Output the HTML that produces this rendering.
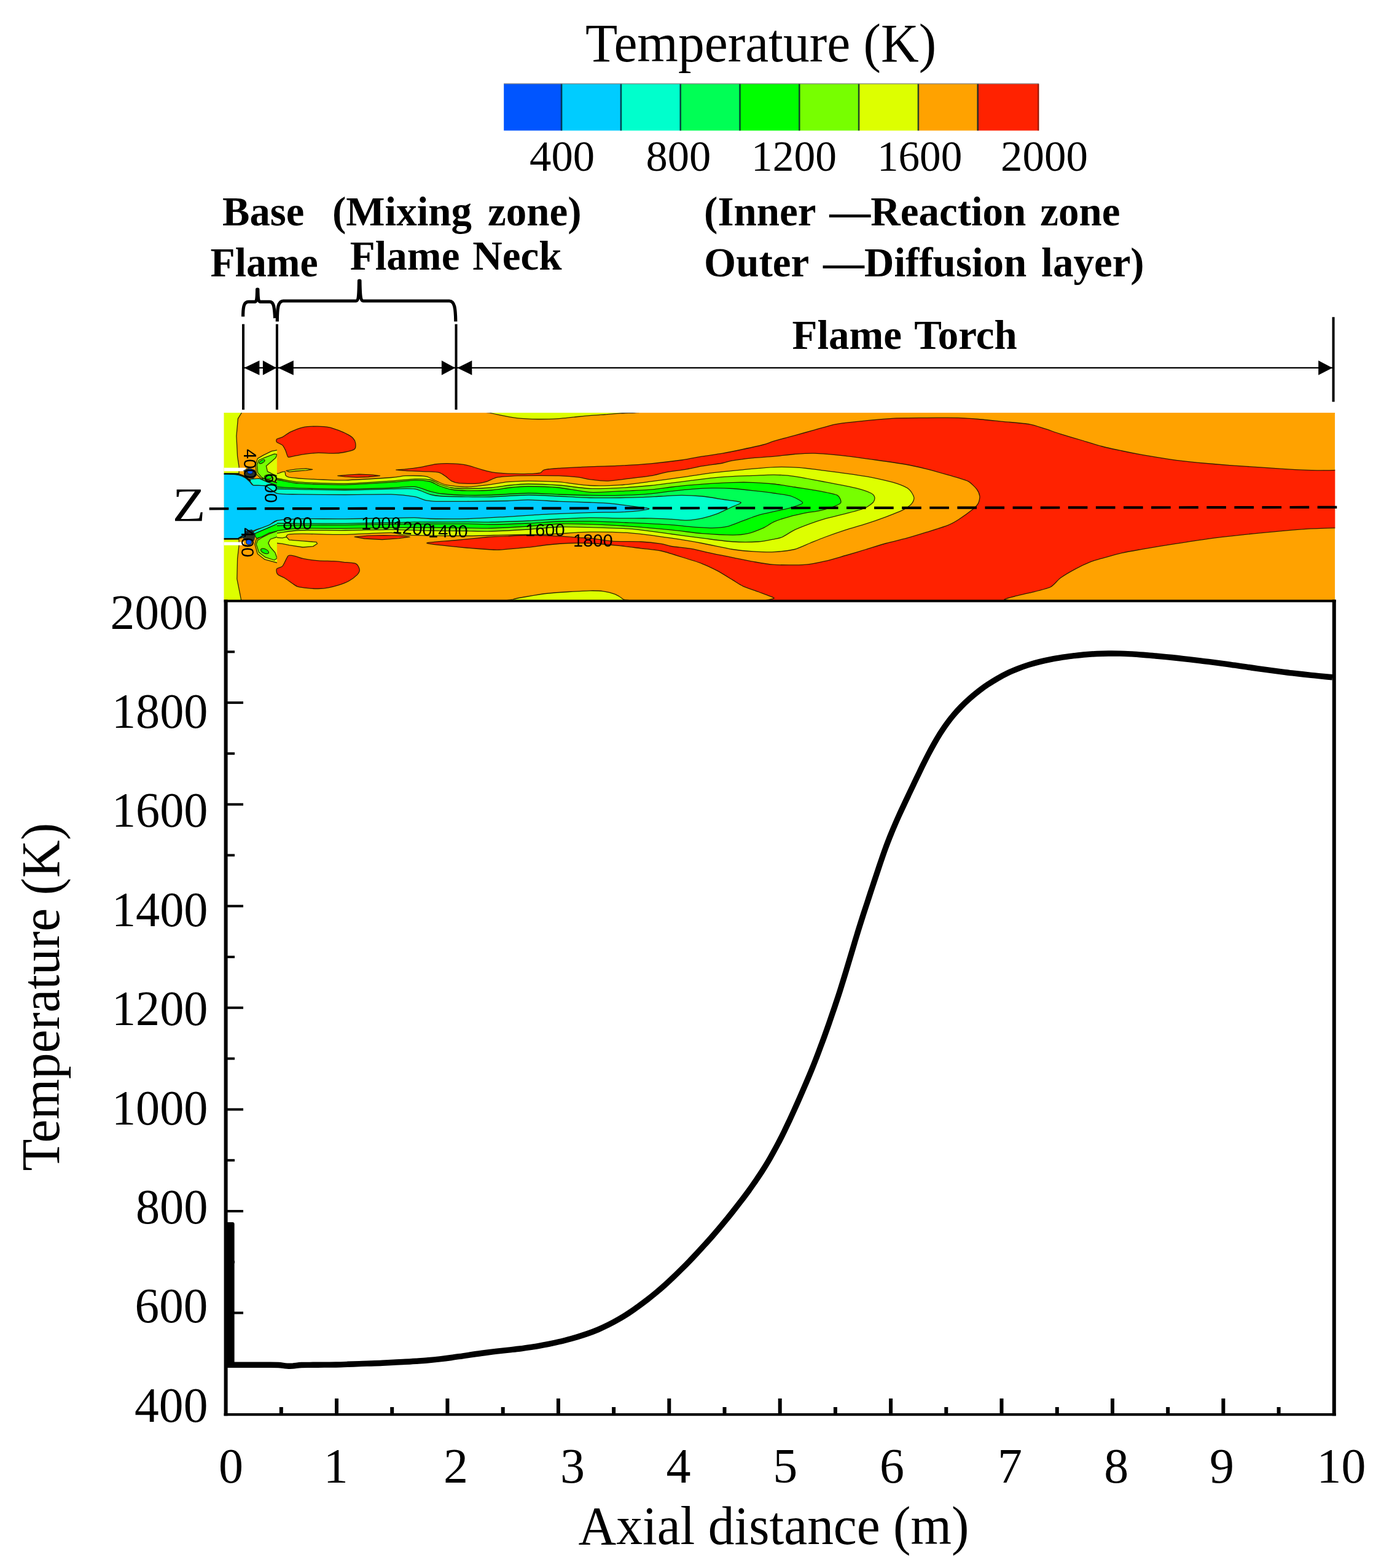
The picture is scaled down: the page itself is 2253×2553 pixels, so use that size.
<!DOCTYPE html>
<html lang="en"><head><meta charset="utf-8"><title>Temperature along axial distance</title>
<style>html,body{margin:0;padding:0;background:#fff;}svg{display:block;}text{font-family:"Liberation Serif",serif;fill:#000;}.b{font-weight:bold;}.s{font-family:"Liberation Sans",sans-serif;}</style>
</head><body>
<svg width="2253" height="2553" viewBox="0 0 2253 2553">
<rect width="2253" height="2553" fill="#ffffff"/>
<g>
<rect x="820.2" y="136.4" width="94.4" height="76.2" fill="#0055ff"/>
<rect x="914.1" y="136.4" width="97.3" height="76.2" fill="#00ccff"/>
<rect x="1010.9" y="136.4" width="97.3" height="76.2" fill="#00ffcc"/>
<rect x="1107.7" y="136.4" width="97.3" height="76.2" fill="#00ff55"/>
<rect x="1204.5" y="136.4" width="97.3" height="76.2" fill="#00ff00"/>
<rect x="1301.3" y="136.4" width="97.3" height="76.2" fill="#77ff00"/>
<rect x="1398.1" y="136.4" width="97.3" height="76.2" fill="#ddff00"/>
<rect x="1494.9" y="136.4" width="97.3" height="76.2" fill="#ffa200"/>
<rect x="1591.7" y="136.4" width="99.6" height="76.2" fill="#ff2200"/>
<line x1="914.1" y1="136.4" x2="914.1" y2="212.6" stroke="#00202c" stroke-opacity="0.8" stroke-width="2.6"/>
<line x1="1010.9" y1="136.4" x2="1010.9" y2="212.6" stroke="#00202c" stroke-opacity="0.8" stroke-width="2.6"/>
<line x1="1107.7" y1="136.4" x2="1107.7" y2="212.6" stroke="#00202c" stroke-opacity="0.8" stroke-width="2.6"/>
<line x1="1204.5" y1="136.4" x2="1204.5" y2="212.6" stroke="#00202c" stroke-opacity="0.8" stroke-width="2.6"/>
<line x1="1301.3" y1="136.4" x2="1301.3" y2="212.6" stroke="#00202c" stroke-opacity="0.8" stroke-width="2.6"/>
<line x1="1398.1" y1="136.4" x2="1398.1" y2="212.6" stroke="#00202c" stroke-opacity="0.8" stroke-width="2.6"/>
<line x1="1494.9" y1="136.4" x2="1494.9" y2="212.6" stroke="#00202c" stroke-opacity="0.8" stroke-width="2.6"/>
<line x1="1591.7" y1="136.4" x2="1591.7" y2="212.6" stroke="#00202c" stroke-opacity="0.8" stroke-width="2.6"/>
<line x1="1690.3" y1="136.4" x2="1690.3" y2="212.6" stroke="#5a1000" stroke-opacity="0.7" stroke-width="2"/>
<line x1="820.2" y1="136.4" x2="1690.8" y2="136.4" stroke="#777" stroke-opacity="0.7" stroke-width="1.6"/>
</g>
<defs><clipPath id="cc"><rect x="364.6" y="672.0" width="1808.7" height="305.0"/></clipPath></defs>
<g clip-path="url(#cc)">
<rect x="364.6" y="672.0" width="1808.7" height="305.0" fill="#ffa200"/>
<path d="M361.6 669.0 L394.1 670.0 L393.3 672.0 L387.4 681.6 L384.9 709.9 L386.6 743.1 L389.1 759.8 L389.0 771.0 L361.6 771.0Z" fill="#ddff00" stroke="#1c1800" stroke-opacity="0.9" stroke-width="1.3" stroke-linejoin="round"/>
<path d="M361.6 878.0 L389.0 878.0 L389.1 887.5 L386.6 909.4 L385.8 942.7 L390.8 967.6 L392.4 976.0 L393.3 978.5 L361.6 980.0Z" fill="#ddff00" stroke="#1c1800" stroke-opacity="0.9" stroke-width="1.3" stroke-linejoin="round"/>
<path d="M796.4 670.0 C766.8 670.2 793.7 671.1 796.4 672.0 C799.1 672.8 812.2 675.5 818.0 676.6 C823.8 677.7 835.7 680.1 842.9 680.8 C850.2 681.5 867.9 682.3 876.2 682.5 C884.5 682.6 902.2 682.0 909.4 681.6 C916.7 681.2 928.1 679.7 934.4 679.1 C940.7 678.5 953.7 677.1 960.0 676.6 C966.3 676.1 978.7 675.4 984.9 675.0 C991.2 674.5 1003.9 673.2 1009.9 672.8 C1015.9 672.4 1030.3 672.3 1033.2 672.0 C1036.1 671.6 1062.8 670.2 1033.2 670.0 C1003.6 669.7 826.0 669.7 796.4 670.0Z" fill="#ddff00" stroke="#1c1800" stroke-opacity="0.9" stroke-width="1.3" stroke-linejoin="round"/>
<path d="M834.6 978.5 C812.1 978.1 831.5 976.9 834.6 976.0 C837.7 975.0 852.3 972.2 859.6 971.0 C866.8 969.7 884.5 966.9 892.8 966.0 C901.1 965.1 917.7 964.0 926.1 963.5 C934.5 963.0 953.1 961.9 960.0 961.8 C966.9 961.7 976.4 961.9 981.6 962.7 C986.8 963.4 997.4 966.0 1001.6 967.6 C1005.7 969.3 1013.2 974.6 1014.9 976.0 C1016.5 977.3 1037.4 978.1 1014.9 978.5 C992.3 978.8 857.1 978.8 834.6 978.5Z" fill="#ddff00" stroke="#1c1800" stroke-opacity="0.9" stroke-width="1.3" stroke-linejoin="round"/>
<path d="M450.6 714.9 C451.8 713.8 457.0 713.0 459.8 711.6 C462.6 710.1 468.9 705.2 473.1 703.2 C477.2 701.3 487.6 696.9 493.0 695.8 C498.4 694.6 510.9 694.1 516.3 694.1 C521.7 694.1 531.9 694.9 536.3 695.8 C540.6 696.6 547.7 699.4 551.2 700.7 C554.8 702.1 561.6 705.0 564.5 706.6 C567.5 708.1 572.8 711.3 574.5 713.2 C576.3 715.1 578.4 719.2 578.7 721.5 C579.0 723.8 579.4 729.6 577.0 731.5 C574.6 733.4 563.8 735.7 559.6 736.5 C555.3 737.3 548.1 738.1 542.9 738.2 C537.7 738.3 524.2 737.1 518.0 737.3 C511.7 737.5 498.2 739.1 493.0 739.8 C487.8 740.6 479.4 742.6 476.4 743.1 C473.4 743.7 470.4 745.2 468.9 744.0 C467.5 742.7 465.9 735.6 464.8 733.2 C463.6 730.8 461.5 726.5 459.8 724.9 C458.0 723.2 451.8 721.1 450.6 719.9 C449.5 718.6 449.5 715.9 450.6 714.9Z" fill="#ff2200" stroke="#1c1800" stroke-opacity="0.9" stroke-width="1.3" stroke-linejoin="round"/>
<path d="M450.6 926.1 C451.8 924.7 457.8 924.0 459.8 921.9 C461.8 919.8 465.2 911.6 466.4 909.4 C467.7 907.3 468.1 905.0 469.8 904.5 C471.4 903.9 476.8 904.7 479.7 905.3 C482.6 905.9 488.3 908.5 493.0 909.4 C497.8 910.4 511.7 912.3 518.0 912.8 C524.2 913.3 537.7 913.3 542.9 913.6 C548.1 913.9 555.0 914.7 559.6 915.3 C564.1 915.8 576.3 916.2 579.5 917.8 C582.7 919.3 585.1 925.5 585.3 927.7 C585.5 930.0 583.4 933.8 581.2 936.1 C579.0 938.3 571.6 944.0 567.9 946.0 C564.1 948.1 555.4 951.3 551.2 952.7 C547.1 954.0 538.8 956.1 534.6 956.8 C530.5 957.6 522.1 958.4 518.0 958.5 C513.8 958.6 505.5 958.1 501.4 957.7 C497.2 957.3 487.8 956.1 484.7 955.2 C481.6 954.2 479.1 952.0 476.4 950.2 C473.7 948.4 466.0 942.8 463.1 941.0 C460.2 939.3 454.7 937.1 453.1 936.1 C451.6 935.0 450.9 934.0 450.6 932.7 C450.3 931.5 449.5 927.4 450.6 926.1Z" fill="#ff2200" stroke="#1c1800" stroke-opacity="0.9" stroke-width="1.3" stroke-linejoin="round"/>
<path d="M549.8 774.7 L568.5 773.1 L584.7 772.2 L605.9 773.1 L618.4 774.7 L599.7 776.5 L581.0 777.2 L562.3 776.2Z" fill="#ff2200" stroke="#1c1800" stroke-opacity="0.9" stroke-width="1.3" stroke-linejoin="round"/>
<path d="M577.2 874.1 L599.7 872.2 L624.6 871.6 L649.6 872.2 L667.0 874.1 L649.6 876.6 L622.1 878.5 L593.4 877.0Z" fill="#ff2200" stroke="#1c1800" stroke-opacity="0.9" stroke-width="1.3" stroke-linejoin="round"/>
<path d="M644.4 765.1 C644.4 764.8 654.9 764.5 660.0 763.9 C665.1 763.4 678.7 761.6 684.9 760.6 C691.2 759.6 703.7 756.3 709.9 755.6 C716.1 754.9 728.6 754.6 734.8 754.8 C741.1 755.0 753.5 756.0 759.8 757.3 C766.0 758.5 779.5 763.3 784.7 764.8 C789.9 766.2 796.2 768.1 801.4 768.9 C806.5 769.7 819.0 770.8 826.3 771.1 C833.6 771.4 852.9 771.6 859.6 771.4 C866.2 771.3 876.2 770.6 879.5 769.8 C882.8 768.9 882.4 765.7 886.2 764.8 C889.9 763.8 902.4 762.8 909.4 762.3 C916.5 761.8 936.4 760.9 942.7 760.6 C949.0 760.3 951.6 760.1 960.0 759.8 C968.4 759.5 997.4 758.7 1009.9 758.1 C1022.4 757.5 1047.3 755.9 1059.8 754.8 C1072.3 753.6 1099.3 750.4 1109.7 749.0 C1120.1 747.5 1134.6 744.5 1142.9 743.1 C1151.2 741.8 1167.9 739.6 1176.2 738.2 C1184.5 736.7 1201.1 733.3 1209.4 731.5 C1217.8 729.7 1236.4 725.7 1242.7 724.0 C1249.0 722.4 1253.7 720.1 1260.0 718.2 C1266.3 716.3 1284.9 711.3 1293.3 709.1 C1301.6 706.8 1318.2 702.2 1326.5 699.9 C1334.8 697.6 1351.5 692.4 1359.8 690.8 C1368.1 689.1 1384.7 687.5 1393.0 686.6 C1401.4 685.7 1418.0 684.0 1426.3 683.3 C1434.6 682.6 1449.2 681.2 1459.6 680.8 C1470.0 680.4 1496.9 680.4 1509.4 680.3 C1522.0 680.2 1549.5 680.0 1560.0 680.3 C1570.5 680.6 1583.9 681.7 1593.3 682.5 C1602.6 683.2 1624.4 685.6 1634.8 686.6 C1645.2 687.6 1668.1 689.3 1676.4 690.8 C1684.7 692.2 1695.1 696.3 1701.4 698.2 C1707.6 700.2 1719.0 704.3 1726.3 706.6 C1733.6 708.8 1751.2 714.0 1759.6 716.5 C1767.9 719.0 1784.5 724.3 1792.8 726.5 C1801.1 728.7 1817.7 732.2 1826.1 734.0 C1834.5 735.8 1850.2 738.9 1860.0 740.7 C1869.8 742.4 1893.3 746.2 1904.3 747.8 C1915.4 749.4 1936.5 751.9 1948.7 753.1 C1960.9 754.3 1988.6 756.6 2001.9 757.6 C2015.2 758.6 2041.8 760.2 2055.1 761.1 C2068.4 762.0 2097.3 764.1 2108.3 764.7 C2119.4 765.3 2135.7 765.8 2143.8 765.9 C2151.9 766.0 2168.6 765.6 2173.1 765.5 C2177.5 765.5 2178.5 753.8 2179.3 765.5 C2180.1 777.3 2180.1 847.8 2179.3 859.6 C2178.5 871.3 2179.7 859.3 2173.1 859.6 C2166.4 859.8 2138.6 860.6 2126.1 861.3 C2113.5 862.1 2086.2 864.5 2072.9 865.8 C2059.6 867.0 2032.9 869.6 2019.6 871.1 C2006.3 872.5 1979.7 875.5 1966.4 877.3 C1953.1 879.1 1926.5 883.2 1913.2 885.3 C1899.9 887.4 1870.9 892.3 1860.0 894.1 C1849.1 896.0 1834.5 898.4 1826.1 900.3 C1817.7 902.2 1799.1 907.7 1792.8 909.4 C1786.6 911.2 1781.4 912.4 1776.2 914.4 C1771.0 916.5 1757.5 922.7 1751.2 926.1 C1745.0 929.4 1731.5 937.3 1726.3 941.0 C1721.1 944.8 1715.9 953.0 1709.7 956.0 C1703.4 959.0 1683.7 963.3 1676.4 965.2 C1669.1 967.0 1656.7 969.6 1651.5 971.0 C1646.3 972.3 1637.1 974.7 1634.8 976.0 C1632.5 977.2 1679.5 980.3 1633.2 981.0 C1586.9 981.6 1311.0 981.9 1264.3 981.0 C1217.7 980.0 1263.7 975.7 1260.0 973.5 C1256.3 971.3 1240.7 965.9 1234.4 963.5 C1228.1 961.1 1214.6 956.7 1209.4 954.3 C1204.2 952.0 1198.0 947.5 1192.8 944.4 C1187.6 941.2 1174.1 932.7 1167.9 929.4 C1161.6 926.1 1150.2 920.6 1142.9 917.8 C1135.7 915.0 1118.0 909.5 1109.7 907.0 C1101.4 904.4 1084.7 898.7 1076.4 897.0 C1068.1 895.2 1051.5 893.9 1043.1 892.8 C1034.8 891.8 1020.3 889.7 1009.9 888.7 C999.5 887.6 970.5 885.0 960.0 884.5 C949.5 884.0 934.5 884.2 926.1 884.5 C917.7 884.8 901.1 886.2 892.8 887.0 C884.5 887.8 867.9 890.3 859.6 891.2 C851.2 892.0 832.5 893.6 826.3 894.1 C820.1 894.7 813.8 895.3 809.7 895.3 C805.5 895.4 799.3 894.9 793.0 894.5 C786.8 894.1 768.1 892.7 759.8 892.0 C751.5 891.3 734.6 889.7 726.5 888.7 C718.4 887.7 692.8 885.1 694.9 884.0 C697.0 882.9 730.9 880.7 743.1 879.5 C755.4 878.3 782.6 875.4 793.0 874.5 C803.4 873.7 818.0 873.2 826.3 872.9 C834.6 872.5 849.2 871.5 859.6 871.5 C870.0 871.5 899.1 872.4 909.4 872.9 C919.8 873.3 936.4 874.9 942.7 875.4 C949.0 875.8 953.3 875.5 960.0 876.2 C966.7 876.9 986.2 880.4 996.6 881.2 C1007.0 881.9 1033.2 881.5 1043.1 882.0 C1053.1 882.5 1070.2 884.4 1076.4 885.3 C1082.6 886.3 1086.8 888.5 1093.0 889.5 C1099.3 890.5 1118.0 892.2 1126.3 893.6 C1134.6 895.1 1151.2 899.4 1159.6 901.1 C1167.9 902.9 1184.5 906.1 1192.8 907.8 C1201.1 909.4 1217.7 913.0 1226.1 914.4 C1234.5 915.9 1249.5 918.8 1260.0 919.4 C1270.5 920.0 1299.5 920.2 1309.9 919.4 C1320.3 918.7 1334.8 915.5 1343.1 913.6 C1351.5 911.7 1368.1 906.8 1376.4 904.5 C1384.7 902.1 1401.4 897.0 1409.7 894.5 C1418.0 892.0 1434.6 886.8 1442.9 884.5 C1451.2 882.2 1467.9 878.5 1476.2 876.2 C1484.5 873.9 1501.1 868.8 1509.4 866.2 C1517.8 863.6 1536.4 857.9 1542.7 855.4 C1549.0 852.9 1554.9 849.5 1560.0 846.3 C1565.1 843.0 1579.2 832.9 1583.3 829.6 C1587.3 826.3 1591.0 822.3 1592.4 819.6 C1593.9 816.9 1595.2 810.9 1594.9 808.0 C1594.6 805.1 1592.2 799.4 1589.9 796.4 C1587.6 793.3 1580.4 786.2 1576.6 783.9 C1572.9 781.6 1564.2 779.4 1560.0 778.1 C1555.8 776.7 1549.0 774.8 1542.7 773.1 C1536.4 771.3 1517.8 766.0 1509.4 763.9 C1501.1 761.9 1486.6 758.3 1476.2 756.5 C1465.8 754.6 1438.8 750.7 1426.3 749.0 C1413.8 747.2 1388.9 743.7 1376.4 742.3 C1363.9 741.0 1336.9 738.5 1326.5 738.2 C1316.1 737.8 1301.6 738.9 1293.3 739.5 C1284.9 740.1 1268.4 742.4 1260.0 743.1 C1251.6 743.9 1234.5 744.8 1226.1 745.6 C1217.7 746.5 1199.1 748.8 1192.8 749.8 C1186.6 750.8 1182.4 752.8 1176.2 754.0 C1170.0 755.1 1150.2 757.7 1142.9 758.9 C1135.7 760.2 1125.3 762.7 1118.0 763.9 C1110.7 765.2 1092.0 767.6 1084.7 768.9 C1077.4 770.3 1067.1 773.5 1059.8 774.7 C1052.5 776.0 1035.5 777.9 1026.5 778.9 C1017.6 779.9 996.6 782.9 988.3 783.1 C980.0 783.3 965.7 781.3 960.0 780.6 C954.3 779.8 949.0 778.0 942.7 777.2 C936.4 776.5 917.8 775.1 909.4 774.7 C901.1 774.4 884.5 774.4 876.2 774.4 C867.9 774.4 851.2 774.4 842.9 774.7 C834.6 775.1 815.9 776.1 809.7 777.2 C803.4 778.4 797.2 782.6 793.0 783.9 C788.9 785.1 782.2 786.9 776.4 787.2 C770.6 787.6 751.7 787.2 746.5 786.7 C741.3 786.2 737.3 784.3 734.8 783.1 C732.3 781.8 729.0 778.1 726.5 776.4 C724.0 774.7 719.0 770.5 714.9 769.4 C710.7 768.3 700.1 768.1 693.3 767.8 C686.4 767.4 666.1 766.8 660.0 766.4 C653.9 766.1 644.4 765.4 644.4 765.1Z" fill="#ff2200" stroke="#1c1800" stroke-opacity="0.9" stroke-width="1.3" stroke-linejoin="round"/>
<defs><clipPath id="cR"><rect x="450.9" y="672.0" width="1722.4" height="305.0"/></clipPath><clipPath id="cL"><rect x="364.6" y="672.0" width="86.3" height="305.0"/></clipPath></defs>
<g clip-path="url(#cR)">
<path d="M430.0 771.0 C432.6 757.4 447.7 771.5 451.1 771.2 C454.6 771.0 456.0 769.4 457.6 769.0 C459.1 768.6 462.7 767.3 463.7 767.9 C464.6 768.5 464.2 773.0 465.1 774.1 C466.0 775.3 467.4 776.4 470.9 777.1 C474.4 777.7 486.1 778.8 493.0 779.3 C500.0 779.8 517.7 780.7 526.3 781.0 C534.9 781.3 548.2 782.3 562.0 781.8 C575.8 781.4 624.8 778.3 637.0 777.5 C649.2 776.6 653.0 775.0 660.0 774.7 C667.0 774.5 686.8 774.5 693.0 775.6 C699.2 776.6 705.8 781.3 710.0 783.1 C714.2 784.8 720.2 788.5 726.5 789.7 C732.8 791.0 751.7 793.0 760.0 793.0 C768.3 793.0 784.8 790.8 793.0 789.7 C801.2 788.7 817.6 785.6 826.0 784.7 C834.4 783.9 849.5 783.1 860.0 783.1 C870.5 783.1 897.5 783.8 910.0 784.7 C922.5 785.7 947.5 789.9 960.0 790.5 C972.5 791.2 997.4 790.5 1009.9 789.7 C1022.4 788.9 1047.3 785.5 1059.8 783.9 C1072.3 782.3 1097.2 779.0 1109.7 777.2 C1122.1 775.5 1147.1 771.3 1159.6 769.8 C1172.0 768.2 1196.9 765.9 1209.4 764.8 C1222.0 763.6 1248.5 761.0 1260.0 760.6 C1271.5 760.2 1291.2 760.7 1301.6 761.4 C1312.0 762.2 1331.7 765.0 1343.1 766.4 C1354.6 767.9 1382.6 771.5 1393.0 773.1 C1403.4 774.6 1418.0 777.1 1426.3 778.9 C1434.6 780.7 1452.9 785.0 1459.6 787.2 C1466.2 789.4 1476.0 793.6 1479.5 796.4 C1483.0 799.2 1487.2 806.8 1487.8 809.7 C1488.5 812.6 1486.6 817.2 1484.5 819.6 C1482.4 822.1 1476.4 826.9 1471.2 829.6 C1466.0 832.3 1450.6 838.4 1442.9 841.3 C1435.2 844.2 1418.0 850.2 1409.7 852.9 C1401.4 855.6 1384.7 860.2 1376.4 862.9 C1368.1 865.6 1350.4 871.8 1343.1 874.5 C1335.9 877.2 1324.4 882.0 1318.2 884.5 C1312.0 887.0 1300.5 892.7 1293.3 894.5 C1286.0 896.2 1268.4 898.2 1260.0 898.6 C1251.6 899.1 1234.5 898.3 1226.1 897.8 C1217.7 897.3 1203.2 896.1 1192.8 894.5 C1182.4 892.8 1155.4 886.8 1142.9 884.5 C1130.5 882.2 1107.6 878.3 1093.0 876.2 C1078.5 874.1 1043.1 869.1 1026.5 867.9 C1009.9 866.6 976.7 866.0 960.0 866.2 C943.3 866.5 909.5 869.3 892.8 869.9 C876.1 870.4 842.9 870.5 826.3 870.9 C809.7 871.2 780.6 872.5 759.8 872.5 C739.0 872.6 675.3 871.9 660.0 871.2 C644.7 870.5 649.2 867.4 637.0 867.3 C624.8 867.1 575.8 870.0 562.0 870.4 C548.2 870.7 534.9 870.0 526.3 869.9 C517.7 869.7 500.0 869.2 493.0 869.2 C486.1 869.2 474.2 869.5 470.9 869.9 C467.6 870.2 467.3 871.4 466.7 872.1 C466.0 872.8 466.2 874.5 465.3 875.2 C464.5 875.9 461.6 876.9 459.8 877.4 C458.0 878.0 454.9 879.3 451.1 879.6 C447.4 880.0 432.6 893.6 430.0 880.0 C427.4 866.4 427.4 784.6 430.0 771.0Z" fill="#ddff00" stroke="#1c1800" stroke-opacity="0.9" stroke-width="1.3" stroke-linejoin="round"/>
<path d="M465.9 766.3 L482.0 763.9 L498.6 762.8 L508.6 764.3 L498.6 765.9 L482.0 767.0 L470.9 768.3Z" fill="#c8f000" stroke="#1c1800" stroke-opacity="0.9" stroke-width="1.3" stroke-linejoin="round"/>
<path d="M448.7 875.2 L459.8 875.8 L466.4 874.3 L470.9 879.2 L493.0 880.8 L515.2 882.7 L516.5 885.2 L509.7 889.6 L493.0 891.0 L470.9 887.6 L459.8 885.4 L448.7 884.1Z" fill="#ddff00" stroke="#1c1800" stroke-opacity="0.9" stroke-width="1.3" stroke-linejoin="round"/>
<path d="M430.0 779.0 C432.6 767.9 443.9 778.3 451.0 779.0 C458.1 779.7 473.1 783.9 487.0 784.9 C500.9 786.0 543.2 787.7 562.0 787.4 C580.8 787.2 622.9 784.0 637.0 783.1 C651.1 782.1 667.1 780.2 675.0 779.9 C682.9 779.7 695.0 780.0 700.0 781.0 C705.0 782.0 710.6 786.4 715.0 788.0 C719.4 789.6 729.4 793.1 735.0 794.0 C740.6 794.9 751.9 795.5 760.0 795.5 C768.1 795.5 791.2 794.7 800.0 794.0 C808.8 793.3 822.5 790.8 830.0 790.0 C837.5 789.2 850.0 788.0 860.0 788.0 C870.0 788.0 897.5 789.1 910.0 790.0 C922.5 790.9 947.5 795.0 960.0 795.5 C972.5 796.1 997.4 795.0 1009.9 794.4 C1022.4 793.7 1049.4 791.5 1059.8 790.5 C1070.2 789.5 1084.7 787.4 1093.0 786.4 C1101.4 785.3 1118.0 783.3 1126.3 782.2 C1134.6 781.2 1151.2 778.9 1159.6 778.1 C1167.9 777.2 1184.5 776.0 1192.8 775.6 C1201.1 775.1 1217.7 774.7 1226.1 774.4 C1234.5 774.1 1251.6 772.9 1260.0 773.1 C1268.4 773.2 1282.9 774.1 1293.3 775.6 C1303.7 777.0 1330.7 782.3 1343.1 784.7 C1355.6 787.1 1383.7 792.4 1393.0 794.7 C1402.4 797.0 1414.1 801.1 1418.0 803.0 C1421.8 804.9 1423.4 807.8 1423.8 809.7 C1424.2 811.5 1423.5 815.7 1421.3 818.0 C1419.1 820.3 1412.0 825.7 1406.3 828.0 C1400.7 830.2 1384.3 834.2 1376.4 836.3 C1368.5 838.4 1350.4 842.5 1343.1 844.6 C1335.9 846.7 1324.4 850.6 1318.2 852.9 C1312.0 855.2 1298.9 860.2 1293.3 862.9 C1287.6 865.6 1277.5 872.7 1273.3 874.5 C1269.1 876.4 1264.9 876.9 1260.0 877.8 C1255.1 878.8 1242.8 881.5 1234.4 882.0 C1226.0 882.5 1204.2 882.7 1192.8 882.0 C1181.4 881.3 1155.4 877.7 1142.9 876.2 C1130.5 874.6 1107.6 871.4 1093.0 869.5 C1078.5 867.7 1043.1 862.6 1026.5 861.2 C1009.9 859.9 974.6 859.1 960.0 858.7 C945.4 858.3 922.5 857.6 910.0 858.0 C897.5 858.4 873.8 861.1 860.0 862.0 C846.2 862.9 812.5 864.7 800.0 865.0 C787.5 865.3 772.5 864.7 760.0 864.5 C747.5 864.4 715.4 864.3 700.0 864.0 C684.6 863.7 654.2 862.3 637.0 862.3 C619.8 862.2 580.8 863.4 562.0 863.5 C543.2 863.7 500.9 862.9 487.0 863.5 C473.1 864.1 458.1 867.4 451.0 868.0 C443.9 868.6 432.6 879.1 430.0 868.0 C427.4 856.9 427.4 790.1 430.0 779.0Z" fill="#77ff00" stroke="#1c1800" stroke-opacity="0.9" stroke-width="1.3" stroke-linejoin="round"/>
<path d="M430.0 781.0 C432.6 770.6 443.9 780.2 451.0 781.0 C458.1 781.8 473.1 786.1 487.0 787.2 C500.9 788.2 543.2 789.5 562.0 789.3 C580.8 789.0 622.9 786.1 637.0 785.2 C651.1 784.2 667.1 782.0 675.0 781.8 C682.9 781.7 695.0 782.9 700.0 784.0 C705.0 785.1 710.6 789.4 715.0 791.0 C719.4 792.6 729.4 796.0 735.0 797.0 C740.6 798.0 751.9 798.7 760.0 798.9 C768.1 799.0 791.2 798.6 800.0 798.0 C808.8 797.4 822.5 794.8 830.0 794.0 C837.5 793.2 850.0 792.0 860.0 792.0 C870.0 792.0 897.5 792.8 910.0 794.0 C922.5 795.2 947.5 800.6 960.0 801.4 C972.5 802.1 997.4 800.2 1009.9 799.7 C1022.4 799.2 1049.4 798.0 1059.8 797.2 C1070.2 796.4 1084.7 794.0 1093.0 793.0 C1101.4 792.1 1118.0 790.4 1126.3 789.7 C1134.6 789.0 1151.2 787.7 1159.6 787.2 C1167.9 786.7 1184.5 785.8 1192.8 785.6 C1201.1 785.3 1217.7 785.2 1226.1 785.6 C1234.5 785.9 1251.6 787.1 1260.0 788.0 C1268.4 789.0 1283.9 791.6 1293.3 793.0 C1302.6 794.5 1326.1 798.0 1334.8 799.7 C1343.6 801.4 1358.8 804.1 1363.1 806.3 C1367.4 808.6 1369.3 815.8 1368.9 818.0 C1368.5 820.2 1364.0 822.1 1359.8 823.8 C1355.5 825.5 1341.1 829.8 1334.8 831.3 C1328.6 832.7 1316.1 834.2 1309.9 835.4 C1303.7 836.7 1291.2 839.5 1284.9 841.3 C1278.7 843.0 1265.3 847.3 1260.0 849.6 C1254.7 851.9 1248.0 857.2 1242.7 859.6 C1237.4 861.9 1224.0 867.2 1217.8 868.7 C1211.5 870.2 1202.2 871.2 1192.8 871.2 C1183.5 871.2 1155.4 869.7 1142.9 868.7 C1130.5 867.7 1107.6 864.3 1093.0 862.9 C1078.5 861.4 1043.1 858.2 1026.5 857.1 C1009.9 855.9 974.6 854.2 960.0 853.7 C945.4 853.2 922.5 852.6 910.0 853.0 C897.5 853.4 873.8 856.1 860.0 857.0 C846.2 857.9 812.5 859.7 800.0 860.0 C787.5 860.3 772.5 859.7 760.0 859.6 C747.5 859.4 715.4 859.1 700.0 859.0 C684.6 858.9 654.2 859.0 637.0 859.1 C619.8 859.3 580.8 860.2 562.0 860.4 C543.2 860.5 500.9 859.9 487.0 860.4 C473.1 860.8 458.1 863.5 451.0 864.0 C443.9 864.5 432.6 874.4 430.0 864.0 C427.4 853.6 427.4 791.4 430.0 781.0Z" fill="#00ff00" stroke="#1c1800" stroke-opacity="0.9" stroke-width="1.3" stroke-linejoin="round"/>
<path d="M430.0 793.0 C432.6 785.1 443.9 792.8 451.0 793.0 C458.1 793.2 473.1 794.5 487.0 794.9 C500.9 795.3 543.2 796.2 562.0 796.2 C580.8 796.1 622.9 794.8 637.0 794.3 C651.1 793.8 667.1 791.7 675.0 792.4 C682.9 793.1 694.4 798.6 700.0 800.0 C705.6 801.4 712.5 803.2 720.0 804.0 C727.5 804.8 750.0 806.1 760.0 806.3 C770.0 806.6 787.5 806.4 800.0 806.0 C812.5 805.6 846.2 803.1 860.0 803.0 C873.8 802.9 897.5 804.6 910.0 805.0 C922.5 805.4 947.5 806.2 960.0 806.3 C972.5 806.5 997.4 806.7 1009.9 806.3 C1022.4 806.0 1049.4 804.7 1059.8 803.8 C1070.2 803.0 1084.7 800.6 1093.0 799.7 C1101.4 798.8 1118.0 797.0 1126.3 796.4 C1134.6 795.7 1151.2 794.8 1159.6 794.7 C1167.9 794.6 1184.5 795.0 1192.8 795.5 C1201.1 796.1 1217.7 797.9 1226.1 798.9 C1234.5 799.8 1252.2 801.9 1260.0 803.0 C1267.8 804.2 1282.5 806.0 1288.3 808.0 C1294.1 810.0 1306.6 816.5 1306.6 818.8 C1306.6 821.1 1294.1 824.5 1288.3 826.3 C1282.5 828.1 1266.7 831.4 1260.0 832.9 C1253.3 834.5 1240.7 836.9 1234.4 838.8 C1228.1 840.6 1215.7 845.6 1209.4 847.9 C1203.2 850.2 1190.7 855.6 1184.5 857.1 C1178.3 858.5 1166.8 859.5 1159.6 859.6 C1152.3 859.7 1134.6 858.5 1126.3 857.9 C1118.0 857.3 1105.5 855.4 1093.0 854.6 C1080.6 853.7 1043.1 852.0 1026.5 851.2 C1009.9 850.5 974.6 849.0 960.0 848.7 C945.4 848.5 922.5 848.6 910.0 849.0 C897.5 849.4 873.8 851.4 860.0 852.0 C846.2 852.6 812.5 853.9 800.0 854.0 C787.5 854.1 772.5 853.0 760.0 852.9 C747.5 852.8 715.4 852.9 700.0 853.0 C684.6 853.1 654.2 853.3 637.0 853.5 C619.8 853.8 580.8 854.6 562.0 854.8 C543.2 854.9 500.9 854.6 487.0 854.8 C473.1 854.9 458.1 855.8 451.0 856.0 C443.9 856.2 432.6 863.9 430.0 856.0 C427.4 848.1 427.4 800.9 430.0 793.0Z" fill="#00ff55" stroke="#1c1800" stroke-opacity="0.9" stroke-width="1.3" stroke-linejoin="round"/>
<path d="M430.0 796.0 C432.6 789.0 443.9 795.9 451.0 796.0 C458.1 796.1 473.1 796.5 487.0 796.8 C500.9 797.0 543.2 798.1 562.0 798.0 C580.8 798.0 622.9 796.4 637.0 796.2 C651.1 795.9 667.1 795.1 675.0 796.2 C682.9 797.3 694.4 803.5 700.0 805.0 C705.6 806.5 712.5 807.5 720.0 808.0 C727.5 808.5 750.0 808.7 760.0 808.8 C770.0 809.0 787.5 809.4 800.0 809.0 C812.5 808.6 846.2 806.1 860.0 806.0 C873.8 805.9 897.5 807.4 910.0 808.0 C922.5 808.6 947.5 810.2 960.0 810.5 C972.5 810.8 999.5 810.6 1009.9 810.5 C1020.3 810.4 1034.8 810.0 1043.1 809.7 C1051.5 809.4 1068.1 808.4 1076.4 808.0 C1084.7 807.6 1101.4 806.3 1109.7 806.3 C1118.0 806.3 1134.6 807.2 1142.9 808.0 C1151.2 808.8 1168.3 811.7 1176.2 813.0 C1184.1 814.2 1204.5 816.3 1206.1 818.0 C1207.8 819.6 1194.3 824.0 1189.5 826.3 C1184.7 828.6 1173.7 834.1 1167.9 836.3 C1162.1 838.5 1149.2 842.4 1142.9 843.8 C1136.7 845.1 1124.2 846.9 1118.0 847.1 C1111.7 847.3 1100.3 845.8 1093.0 845.4 C1085.8 845.0 1070.2 844.0 1059.8 843.8 C1049.4 843.6 1022.4 843.9 1009.9 843.8 C997.4 843.7 972.5 842.8 960.0 842.9 C947.5 843.1 922.5 844.4 910.0 845.0 C897.5 845.6 873.8 847.4 860.0 848.0 C846.2 848.6 812.5 849.8 800.0 850.0 C787.5 850.2 772.5 849.6 760.0 849.6 C747.5 849.6 710.6 850.0 700.0 850.0 C689.4 850.0 682.9 849.7 675.0 849.8 C667.1 849.9 651.1 850.7 637.0 851.0 C622.9 851.3 580.8 852.1 562.0 852.3 C543.2 852.4 500.9 852.3 487.0 852.3 C473.1 852.2 458.1 852.0 451.0 852.0 C443.9 852.0 432.6 859.0 430.0 852.0 C427.4 845.0 427.4 803.0 430.0 796.0Z" fill="#00ffcc" stroke="#1c1800" stroke-opacity="0.9" stroke-width="1.3" stroke-linejoin="round"/>
</g>
<g clip-path="url(#cL)">
<path d="M416.0 756.6 L419.3 746.6 L428.7 741.1 L442.0 734.6 L453.1 732.4 L453.1 787.6 L437.6 782.6 L426.5 780.4 L417.6 772.1Z" fill="#ddff00" stroke="#1c1800" stroke-opacity="0.9" stroke-width="1.3" stroke-linejoin="round"/>
<path d="M418.2 756.6 L421.5 749.0 L432.1 744.6 L446.5 739.1 L451.1 739.7 L448.7 745.5 L439.8 753.3 L433.4 758.8 L435.4 767.7 L444.3 772.1 L453.1 775.4 L453.1 786.5 L437.6 780.8 L426.5 777.9 L419.6 769.9Z" fill="#77ff00" stroke="#1c1800" stroke-opacity="0.9" stroke-width="1.3" stroke-linejoin="round"/>
<path d="M414.9 886.3 L419.3 901.8 L431.0 910.9 L453.1 916.8 L453.1 863.0 L437.6 867.5 L426.5 873.0 L417.1 878.5Z" fill="#ddff00" stroke="#1c1800" stroke-opacity="0.9" stroke-width="1.3" stroke-linejoin="round"/>
<path d="M417.1 886.3 L421.5 899.6 L432.1 907.4 L446.5 912.0 L451.1 909.0 L447.8 899.6 L440.0 890.7 L436.7 884.1 L440.0 878.0 L453.1 873.5 L453.1 864.1 L437.6 869.7 L426.5 875.2 L419.3 879.6Z" fill="#77ff00" stroke="#1c1800" stroke-opacity="0.9" stroke-width="1.3" stroke-linejoin="round"/>
<path d="M426.5 778.2 L437.6 782.1 L453.1 787.1 L453.1 799.8 L437.6 791.0 L431.0 786.5Z" fill="#00ff00" stroke="#1c1800" stroke-opacity="0.9" stroke-width="1.3" stroke-linejoin="round"/>
<path d="M413.2 869.1 L437.6 858.8 L453.1 851.9 L453.1 864.1 L437.6 868.0 L426.5 873.9 L417.6 876.5Z" fill="#00ff00" stroke="#1c1800" stroke-opacity="0.9" stroke-width="1.3" stroke-linejoin="round"/>
<path d="M404.3 780.4 L422.1 779.1 L436.5 785.4 L453.1 791.0 L453.1 805.4 L432.1 791.0 L412.1 790.1Z" fill="#00ffcc" stroke="#1c1800" stroke-opacity="0.9" stroke-width="1.3" stroke-linejoin="round"/>
<path d="M408.8 867.7 L417.6 862.7 L437.6 854.9 L453.1 846.4 L453.1 852.2 L437.6 858.8 L413.2 869.3Z" fill="#00ffcc" stroke="#1c1800" stroke-opacity="0.9" stroke-width="1.3" stroke-linejoin="round"/>
</g>
<path d="M320.0 772.0 C321.9 758.9 331.2 772.0 335.0 772.0 C338.8 772.0 346.4 772.0 350.0 772.0 C353.6 772.0 360.8 772.0 364.0 772.0 C367.2 772.0 373.0 771.8 376.0 772.0 C379.0 772.2 384.9 772.7 387.7 773.4 C390.6 774.1 396.4 776.3 398.8 777.6 C401.2 779.0 404.9 782.7 406.6 784.3 C408.2 785.9 408.9 789.2 412.1 790.1 C415.3 790.9 427.2 789.5 432.1 791.2 C436.9 792.8 444.3 801.7 451.1 803.4 C458.0 805.1 473.1 804.6 487.0 804.9 C500.9 805.2 543.2 805.5 562.0 805.5 C580.8 805.5 622.9 804.5 637.0 804.9 C651.1 805.3 668.0 807.4 675.0 808.6 C682.0 809.9 688.6 813.7 693.0 814.7 C697.4 815.6 701.6 816.1 710.0 816.3 C718.4 816.5 745.5 816.4 760.0 816.3 C774.5 816.2 813.5 815.8 826.0 815.5 C838.5 815.2 849.5 813.7 860.0 813.8 C870.5 813.9 897.5 815.8 910.0 816.3 C922.5 816.8 949.6 817.6 960.0 818.0 C970.4 818.4 984.9 818.9 993.3 819.6 C1001.6 820.4 1018.6 822.8 1026.5 823.8 C1034.4 824.8 1054.4 827.0 1056.5 828.0 C1058.5 828.9 1049.0 830.6 1043.1 831.3 C1037.3 832.0 1020.3 833.4 1009.9 833.8 C999.5 834.2 974.6 834.2 960.0 834.6 C945.4 835.0 909.8 836.3 893.0 837.1 C876.2 837.9 842.6 840.3 826.0 841.3 C809.4 842.2 775.8 844.2 760.0 844.6 C744.2 845.0 710.6 844.7 700.0 844.5 C689.4 844.3 682.9 843.0 675.0 842.9 C667.1 842.8 651.1 843.3 637.0 843.6 C622.9 843.8 580.8 844.6 562.0 844.8 C543.2 845.0 500.9 844.5 487.0 844.8 C473.1 845.1 457.3 846.2 451.1 847.5 C445.0 848.8 442.1 853.1 437.6 855.0 C433.1 857.0 419.6 861.5 415.4 863.0 C411.3 864.6 406.7 866.0 404.3 867.5 C402.0 868.9 398.7 873.5 396.6 874.7 C394.5 875.8 390.3 876.4 387.7 876.7 C385.1 876.9 379.0 876.6 376.0 876.6 C373.0 876.6 367.2 876.6 364.0 876.6 C360.8 876.6 353.6 876.6 350.0 876.6 C346.4 876.6 338.8 876.6 335.0 876.6 C331.2 876.6 321.9 889.7 320.0 876.6 C318.1 863.5 318.1 785.1 320.0 772.0Z" fill="#00ccff" stroke="#1c1800" stroke-opacity="0.9" stroke-width="1.3" stroke-linejoin="round"/>
<ellipse cx="426.5" cy="751.6" rx="5" ry="2.2" fill="#00ff00" stroke="#2a2000" stroke-width="1.2" transform="rotate(-30 426.5 751.6)"/>
<ellipse cx="436.5" cy="776.5" rx="6" ry="3.5" fill="#00ff00" stroke="#2a2000" stroke-width="1.2"/>
<ellipse cx="431.0" cy="897.4" rx="7" ry="3.5" fill="#00ff00" stroke="#2a2000" stroke-width="1.2" transform="rotate(25 431.0 897.4)"/>
<rect x="363.6" y="761.6" width="36.4" height="5.6" fill="#ffffff"/>
<rect x="363.6" y="882.6" width="33.4" height="5.2" fill="#ffffff"/>
<path d="M364.6 771.3 L388 771.8 L397 775 L408 783" fill="none" stroke="#06140c" stroke-width="2.2"/>
<path d="M364.6 877.3 L388 876.8 L396 872 L404 866" fill="none" stroke="#06140c" stroke-width="2.2"/>
<path d="M396 766 L404 762 L415 765 L418 774 L412 780 L402 778 Z" fill="#08202e" fill-opacity="0.85"/>
<path d="M395 876 L400 864 L410 862 L416 870 L414 880 L404 884 Z" fill="#08202e" fill-opacity="0.85"/>
<ellipse cx="407.2" cy="767.5" rx="4.6" ry="4.2" fill="#0055ff" stroke="#062040" stroke-width="1.2"/>
<ellipse cx="405.2" cy="882.6" rx="4.6" ry="4.2" fill="#0055ff" stroke="#062040" stroke-width="1.2"/>
<text class="s" x="460.0" y="862.3" font-size="29" fill="#111">800</text>
<text class="s" x="588.0" y="861.6" font-size="29" fill="#111">1000</text>
<text class="s" x="638.5" y="867.7" font-size="29" fill="#111" transform="rotate(4.5 638.5 867.7)">1200</text>
<text class="s" x="697.0" y="875.4" font-size="29" fill="#111">1400</text>
<text class="s" x="855.0" y="872.9" font-size="29" fill="#111">1600</text>
<text class="s" x="933.0" y="889.5" font-size="29" fill="#111">1800</text>
<text class="s" x="397.0" y="731.0" font-size="29" fill="#111" transform="rotate(90 397.0 731.0)">400</text>
<text class="s" x="431.0" y="770.5" font-size="29" fill="#111" transform="rotate(90 431.0 770.5)">600</text>
<text class="s" x="393.0" y="859.0" font-size="29" fill="#111" transform="rotate(90 393.0 859.0)">400</text>
</g>
<line x1="340.7" y1="828.3" x2="2176.6" y2="825.9" stroke="#000" stroke-width="4.2" stroke-dasharray="31.6 13.5"/>
<text x="280.8" y="848.1" font-size="78" textLength="53.8" lengthAdjust="spacingAndGlyphs">Z</text>
<text x="953.1" y="99.5" font-size="89" textLength="571.2" lengthAdjust="spacingAndGlyphs">Temperature (K)</text>
<text x="862.1" y="277.6" font-size="70" textLength="106.0" lengthAdjust="spacingAndGlyphs">400</text>
<text x="1051.4" y="277.6" font-size="70" textLength="105.8" lengthAdjust="spacingAndGlyphs">800</text>
<text x="1223.0" y="277.6" font-size="70" textLength="138.9" lengthAdjust="spacingAndGlyphs">1200</text>
<text x="1427.9" y="277.6" font-size="70" textLength="138.4" lengthAdjust="spacingAndGlyphs">1600</text>
<text x="1629.0" y="277.6" font-size="70" textLength="141.9" lengthAdjust="spacingAndGlyphs">2000</text>
<text class="b" x="362.0" y="367.3" font-size="67" textLength="133.2" lengthAdjust="spacingAndGlyphs">Base</text>
<text class="b" x="342.6" y="449.7" font-size="67" textLength="175.1" lengthAdjust="spacingAndGlyphs">Flame</text>
<text class="b" x="541.0" y="367.3" font-size="67" word-spacing="9.10">(Mixing zone)</text>
<text class="b" x="569.8" y="438.6" font-size="67" word-spacing="4.20">Flame Neck</text>
<text class="b" x="1146.1" y="366.5" font-size="67" word-spacing="6.25">(Inner —Reaction zone</text>
<text class="b" x="1146.1" y="449.7" font-size="67" word-spacing="7.20">Outer —Diffusion layer)</text>
<text class="b" x="1289.5" y="567.5" font-size="67" word-spacing="4.50">Flame Torch</text>
<g fill="none" stroke="#000" stroke-width="5.2" stroke-linecap="butt" stroke-linejoin="round">
<path d="M395.6 515.5 C395.6 499 397.2 491.4 404.5 491.4 L415.2 491.4 C417.8 491.4 418.4 486 418.6 471 L419.8 471 C420 486 420.6 491.4 423.6 491.4 L439 491.4 C445.5 491.4 446.6 499 447.6 518"/>
<path d="M451.3 523.5 C451.3 502 452.6 490 461 490 L579.5 490 C583.4 490 584.2 482 584.5 457 L585.9 457 C586.2 482 587 490 591.3 490 L731.5 490 C740 490 741.5 502 741.8 523.5"/>
</g>
<g stroke="#000" stroke-width="4">
<line x1="396.0" y1="527.7" x2="396.0" y2="667.1"/>
<line x1="450.9" y1="527.7" x2="450.9" y2="667.1"/>
<line x1="742.5" y1="527.7" x2="742.5" y2="667.1"/>
<line x1="2170.6" y1="516.2" x2="2170.6" y2="654.2"/>
</g>
<line x1="397.4" y1="598.9" x2="2169" y2="598.9" stroke="#000" stroke-width="2.3"/>
<path d="M397.4 598.9 L422.4 587.1 L422.4 610.7 Z" fill="#000"/>
<path d="M450.0 598.9 L427.9 587.1 L427.9 610.7 Z" fill="#000"/>
<path d="M452.8 598.9 L477.8 587.1 L477.8 610.7 Z" fill="#000"/>
<path d="M741.1 598.9 L718.9 587.1 L718.9 610.7 Z" fill="#000"/>
<path d="M744.4 598.9 L768.3 587.1 L768.3 610.7 Z" fill="#000"/>
<path d="M2169.0 598.9 L2146.2 587.1 L2146.2 610.7 Z" fill="#000"/>
<g stroke="#000" fill="none">
<line x1="367.6" y1="976.5" x2="367.6" y2="2305.3" stroke-width="6"/>
<line x1="2171.8" y1="976.5" x2="2171.8" y2="2305.3" stroke-width="6"/>
<line x1="364.6" y1="978.5" x2="2174.8" y2="978.5" stroke-width="4"/>
<line x1="364.6" y1="2303.2" x2="2174.8" y2="2303.2" stroke-width="4.2"/>
<line x1="367.6" y1="1144.1" x2="396" y2="1144.1" stroke-width="4"/>
<line x1="367.6" y1="1309.7" x2="396" y2="1309.7" stroke-width="4"/>
<line x1="367.6" y1="1475.3" x2="396" y2="1475.3" stroke-width="4"/>
<line x1="367.6" y1="1640.8" x2="396" y2="1640.8" stroke-width="4"/>
<line x1="367.6" y1="1806.4" x2="396" y2="1806.4" stroke-width="4"/>
<line x1="367.6" y1="1972.0" x2="396" y2="1972.0" stroke-width="4"/>
<line x1="367.6" y1="2137.6" x2="396" y2="2137.6" stroke-width="4"/>
<line x1="367.6" y1="1061.3" x2="382" y2="1061.3" stroke-width="4"/>
<line x1="367.6" y1="1226.9" x2="382" y2="1226.9" stroke-width="4"/>
<line x1="367.6" y1="1392.5" x2="382" y2="1392.5" stroke-width="4"/>
<line x1="367.6" y1="1558.1" x2="382" y2="1558.1" stroke-width="4"/>
<line x1="367.6" y1="1723.6" x2="382" y2="1723.6" stroke-width="4"/>
<line x1="367.6" y1="1889.2" x2="382" y2="1889.2" stroke-width="4"/>
<line x1="367.6" y1="2054.8" x2="382" y2="2054.8" stroke-width="4"/>
<line x1="367.6" y1="2220.4" x2="382" y2="2220.4" stroke-width="4"/>
<line x1="548.0" y1="2277" x2="548.0" y2="2303.2" stroke-width="6"/>
<line x1="728.4" y1="2277" x2="728.4" y2="2303.2" stroke-width="6"/>
<line x1="908.9" y1="2277" x2="908.9" y2="2303.2" stroke-width="6"/>
<line x1="1089.3" y1="2277" x2="1089.3" y2="2303.2" stroke-width="6"/>
<line x1="1269.7" y1="2277" x2="1269.7" y2="2303.2" stroke-width="6"/>
<line x1="1450.1" y1="2277" x2="1450.1" y2="2303.2" stroke-width="6"/>
<line x1="1630.5" y1="2277" x2="1630.5" y2="2303.2" stroke-width="6"/>
<line x1="1811.0" y1="2277" x2="1811.0" y2="2303.2" stroke-width="6"/>
<line x1="1991.4" y1="2277" x2="1991.4" y2="2303.2" stroke-width="6"/>
<line x1="457.8" y1="2291" x2="457.8" y2="2303.2" stroke-width="6"/>
<line x1="638.2" y1="2291" x2="638.2" y2="2303.2" stroke-width="6"/>
<line x1="818.7" y1="2291" x2="818.7" y2="2303.2" stroke-width="6"/>
<line x1="999.1" y1="2291" x2="999.1" y2="2303.2" stroke-width="6"/>
<line x1="1179.5" y1="2291" x2="1179.5" y2="2303.2" stroke-width="6"/>
<line x1="1359.9" y1="2291" x2="1359.9" y2="2303.2" stroke-width="6"/>
<line x1="1540.3" y1="2291" x2="1540.3" y2="2303.2" stroke-width="6"/>
<line x1="1720.8" y1="2291" x2="1720.8" y2="2303.2" stroke-width="6"/>
<line x1="1901.2" y1="2291" x2="1901.2" y2="2303.2" stroke-width="6"/>
<line x1="2081.6" y1="2291" x2="2081.6" y2="2303.2" stroke-width="6"/>
</g>
<path d="M378.0 2222.3 C381.1 2222.3 390.5 2222.3 396.8 2222.3 C403.1 2222.3 409.3 2222.3 415.6 2222.3 C421.9 2222.3 428.2 2222.3 434.4 2222.3 C440.7 2222.3 447.0 2222.2 453.2 2222.5 C459.5 2222.9 465.7 2224.2 471.9 2224.2 C478.1 2224.2 484.3 2222.8 490.6 2222.5 C496.8 2222.2 503.1 2222.4 509.4 2222.3 C515.7 2222.3 521.9 2222.2 528.2 2222.1 C534.5 2222.1 540.7 2222.2 547.0 2222.0 C553.3 2221.9 559.5 2221.6 565.8 2221.3 C572.1 2221.1 578.3 2220.8 584.6 2220.6 C590.8 2220.3 597.1 2220.2 603.4 2220.0 C609.6 2219.8 615.9 2219.6 622.2 2219.3 C628.4 2219.0 634.7 2218.6 640.9 2218.3 C647.2 2217.9 653.5 2217.7 659.7 2217.3 C666.0 2217.0 672.2 2216.6 678.5 2216.2 C684.7 2215.7 691.0 2215.3 697.2 2214.7 C703.5 2214.2 709.7 2213.6 715.9 2212.9 C722.2 2212.2 728.4 2211.4 734.6 2210.5 C740.8 2209.7 747.0 2208.7 753.2 2207.8 C759.4 2206.8 765.6 2205.9 771.8 2205.0 C778.0 2204.1 784.2 2203.3 790.4 2202.5 C796.6 2201.7 802.8 2200.9 809.0 2200.1 C815.2 2199.4 821.5 2198.8 827.7 2198.1 C833.9 2197.4 840.2 2196.8 846.4 2196.0 C852.6 2195.2 858.8 2194.3 865.0 2193.4 C871.2 2192.4 877.3 2191.3 883.5 2190.2 C889.7 2189.1 895.8 2187.9 901.9 2186.5 C908.0 2185.2 914.1 2183.7 920.2 2182.2 C926.3 2180.6 932.3 2179.0 938.3 2177.2 C944.3 2175.4 950.3 2173.5 956.1 2171.5 C962.0 2169.4 967.9 2167.2 973.6 2164.8 C979.4 2162.3 985.0 2159.7 990.6 2156.9 C996.2 2154.1 1001.7 2151.1 1007.1 2148.0 C1012.5 2144.9 1017.8 2141.6 1023.1 2138.2 C1028.3 2134.8 1033.5 2131.2 1038.5 2127.5 C1043.6 2123.9 1048.6 2120.1 1053.6 2116.3 C1058.5 2112.4 1063.4 2108.5 1068.2 2104.5 C1073.0 2100.5 1077.7 2096.4 1082.4 2092.2 C1087.1 2088.0 1091.6 2083.8 1096.2 2079.4 C1100.7 2075.1 1105.2 2070.7 1109.6 2066.3 C1114.1 2061.9 1118.5 2057.4 1122.8 2052.9 C1127.2 2048.4 1131.4 2043.8 1135.7 2039.2 C1140.0 2034.6 1144.2 2030.0 1148.4 2025.4 C1152.6 2020.7 1156.8 2016.0 1160.9 2011.3 C1165.0 2006.6 1169.1 2001.8 1173.1 1997.0 C1177.1 1992.2 1181.1 1987.4 1185.1 1982.5 C1189.0 1977.7 1192.9 1972.7 1196.8 1967.8 C1200.6 1962.9 1204.5 1957.9 1208.3 1952.9 C1212.1 1948.0 1215.8 1942.9 1219.5 1937.9 C1223.2 1932.8 1226.7 1927.6 1230.3 1922.5 C1233.8 1917.3 1237.3 1912.1 1240.7 1906.9 C1244.1 1901.6 1247.4 1896.3 1250.6 1890.9 C1253.8 1885.5 1256.8 1880.0 1259.8 1874.5 C1262.9 1869.1 1265.8 1863.5 1268.7 1858.0 C1271.6 1852.4 1274.4 1846.8 1277.1 1841.2 C1279.9 1835.5 1282.5 1829.9 1285.2 1824.2 C1287.8 1818.5 1290.4 1812.8 1293.0 1807.1 C1295.6 1801.4 1298.2 1795.7 1300.7 1789.9 C1303.2 1784.2 1305.7 1778.5 1308.2 1772.7 C1310.7 1766.9 1313.2 1761.2 1315.6 1755.4 C1318.0 1749.6 1320.5 1743.8 1322.8 1738.0 C1325.2 1732.2 1327.4 1726.4 1329.7 1720.5 C1332.0 1714.7 1334.1 1708.8 1336.3 1702.9 C1338.5 1697.1 1340.7 1691.2 1342.8 1685.3 C1344.9 1679.4 1347.0 1673.5 1349.1 1667.6 C1351.1 1661.6 1353.2 1655.7 1355.2 1649.8 C1357.3 1643.9 1359.3 1637.9 1361.2 1632.0 C1363.2 1626.0 1365.2 1620.1 1367.1 1614.1 C1369.0 1608.1 1370.8 1602.2 1372.7 1596.2 C1374.6 1590.2 1376.4 1584.2 1378.2 1578.2 C1380.0 1572.2 1381.8 1566.2 1383.6 1560.2 C1385.4 1554.2 1387.2 1548.1 1389.0 1542.1 C1390.8 1536.1 1392.5 1530.1 1394.4 1524.1 C1396.2 1518.1 1398.0 1512.1 1399.9 1506.2 C1401.8 1500.2 1403.7 1494.2 1405.6 1488.3 C1407.6 1482.3 1409.5 1476.3 1411.5 1470.4 C1413.4 1464.4 1415.4 1458.5 1417.3 1452.5 C1419.3 1446.6 1421.3 1440.6 1423.2 1434.7 C1425.2 1428.7 1427.2 1422.8 1429.2 1416.8 C1431.2 1410.9 1433.1 1404.9 1435.2 1399.0 C1437.2 1393.1 1439.2 1387.1 1441.4 1381.3 C1443.5 1375.4 1445.8 1369.6 1448.1 1363.7 C1450.5 1357.9 1452.8 1352.1 1455.3 1346.4 C1457.7 1340.6 1460.2 1334.9 1462.8 1329.1 C1465.4 1323.4 1468.0 1317.7 1470.7 1312.1 C1473.3 1306.4 1476.0 1300.7 1478.7 1295.1 C1481.4 1289.4 1484.1 1283.7 1486.8 1278.1 C1489.4 1272.4 1492.1 1266.7 1494.9 1261.1 C1497.6 1255.5 1500.3 1249.8 1503.1 1244.2 C1505.9 1238.6 1508.7 1233.0 1511.6 1227.4 C1514.5 1221.9 1517.5 1216.4 1520.6 1210.9 C1523.6 1205.5 1526.8 1200.1 1530.1 1194.8 C1533.5 1189.5 1536.9 1184.3 1540.6 1179.2 C1544.2 1174.2 1548.0 1169.2 1552.0 1164.5 C1556.0 1159.7 1560.2 1155.1 1564.6 1150.6 C1568.9 1146.1 1573.5 1141.8 1578.1 1137.7 C1582.8 1133.5 1587.6 1129.5 1592.5 1125.7 C1597.5 1121.9 1602.5 1118.2 1607.7 1114.7 C1612.9 1111.3 1618.2 1107.9 1623.6 1104.8 C1629.0 1101.7 1634.5 1098.7 1640.1 1096.0 C1645.7 1093.3 1651.5 1090.9 1657.3 1088.6 C1663.1 1086.3 1669.0 1084.3 1674.9 1082.4 C1680.9 1080.5 1686.9 1078.9 1693.0 1077.4 C1699.0 1075.9 1705.2 1074.6 1711.3 1073.4 C1717.5 1072.2 1723.6 1071.2 1729.8 1070.2 C1736.0 1069.3 1742.2 1068.4 1748.4 1067.7 C1754.7 1067.0 1760.9 1066.3 1767.1 1065.8 C1773.4 1065.2 1779.6 1064.8 1785.9 1064.5 C1792.1 1064.2 1798.4 1064.0 1804.6 1064.0 C1810.9 1063.9 1817.2 1064.0 1823.4 1064.1 C1829.7 1064.3 1835.9 1064.6 1842.2 1064.9 C1848.4 1065.3 1854.7 1065.8 1860.9 1066.3 C1867.2 1066.8 1873.4 1067.3 1879.7 1067.9 C1885.9 1068.5 1892.1 1069.0 1898.4 1069.6 C1904.6 1070.2 1910.9 1070.9 1917.1 1071.5 C1923.3 1072.2 1929.6 1072.9 1935.8 1073.6 C1942.0 1074.3 1948.2 1075.0 1954.5 1075.8 C1960.7 1076.5 1966.9 1077.3 1973.1 1078.1 C1979.3 1078.9 1985.5 1079.8 1991.8 1080.6 C1998.0 1081.5 2004.2 1082.4 2010.4 1083.2 C2016.6 1084.1 2022.8 1085.0 2029.0 1085.9 C2035.2 1086.8 2041.4 1087.7 2047.6 1088.6 C2053.8 1089.5 2060.0 1090.3 2066.2 1091.2 C2072.4 1092.0 2078.7 1092.8 2084.9 1093.6 C2091.1 1094.4 2097.3 1095.2 2103.5 1095.9 C2109.8 1096.6 2116.1 1097.3 2122.2 1098.0 C2128.3 1098.7 2134.2 1099.3 2140.2 1099.9 C2146.1 1100.5 2153.3 1101.2 2158.1 1101.7 C2162.9 1102.2 2167.2 1102.6 2169.0 1102.8" fill="none" stroke="#000" stroke-width="9.4" stroke-linejoin="round"/>
<path d="M370 1990 L378.6 1990 Q381.6 1990 381.6 1993 L381.6 2218 L386 2227 L370 2227 Z" fill="#000"/>
<text x="179.4" y="1023.6" font-size="80" textLength="159.0" lengthAdjust="spacingAndGlyphs">2000</text>
<text x="182.0" y="1185.0" font-size="80" textLength="156.4" lengthAdjust="spacingAndGlyphs">1800</text>
<text x="182.0" y="1346.4" font-size="80" textLength="156.4" lengthAdjust="spacingAndGlyphs">1600</text>
<text x="182.0" y="1507.8" font-size="80" textLength="156.4" lengthAdjust="spacingAndGlyphs">1400</text>
<text x="182.0" y="1669.2" font-size="80" textLength="156.4" lengthAdjust="spacingAndGlyphs">1200</text>
<text x="182.0" y="1830.6" font-size="80" textLength="156.4" lengthAdjust="spacingAndGlyphs">1000</text>
<text x="220.9" y="1992.0" font-size="80" textLength="117.5" lengthAdjust="spacingAndGlyphs">800</text>
<text x="219.6" y="2153.4" font-size="80" textLength="118.7" lengthAdjust="spacingAndGlyphs">600</text>
<text x="219.1" y="2314.8" font-size="80" textLength="119.3" lengthAdjust="spacingAndGlyphs">400</text>
<text x="356.0" y="2414.2" font-size="80">0</text>
<text x="526.8" y="2414.2" font-size="80">1</text>
<text x="721.9" y="2414.2" font-size="80">2</text>
<text x="912.0" y="2414.2" font-size="80">3</text>
<text x="1084.5" y="2414.2" font-size="80">4</text>
<text x="1258.3" y="2414.2" font-size="80">5</text>
<text x="1432.1" y="2414.2" font-size="80">6</text>
<text x="1624.0" y="2414.2" font-size="80">7</text>
<text x="1797.3" y="2414.2" font-size="80">8</text>
<text x="1969.1" y="2414.2" font-size="80">9</text>
<text x="2143.4" y="2414.2" font-size="80">10</text>
<text x="941.5" y="2514.0" font-size="89" textLength="636.0" lengthAdjust="spacingAndGlyphs">Axial distance (m)</text>
<text transform="rotate(-90)" x="-1906.4" y="95.9" font-size="89" textLength="566.6" lengthAdjust="spacingAndGlyphs">Temperature (K)</text>
</svg>
</body></html>
